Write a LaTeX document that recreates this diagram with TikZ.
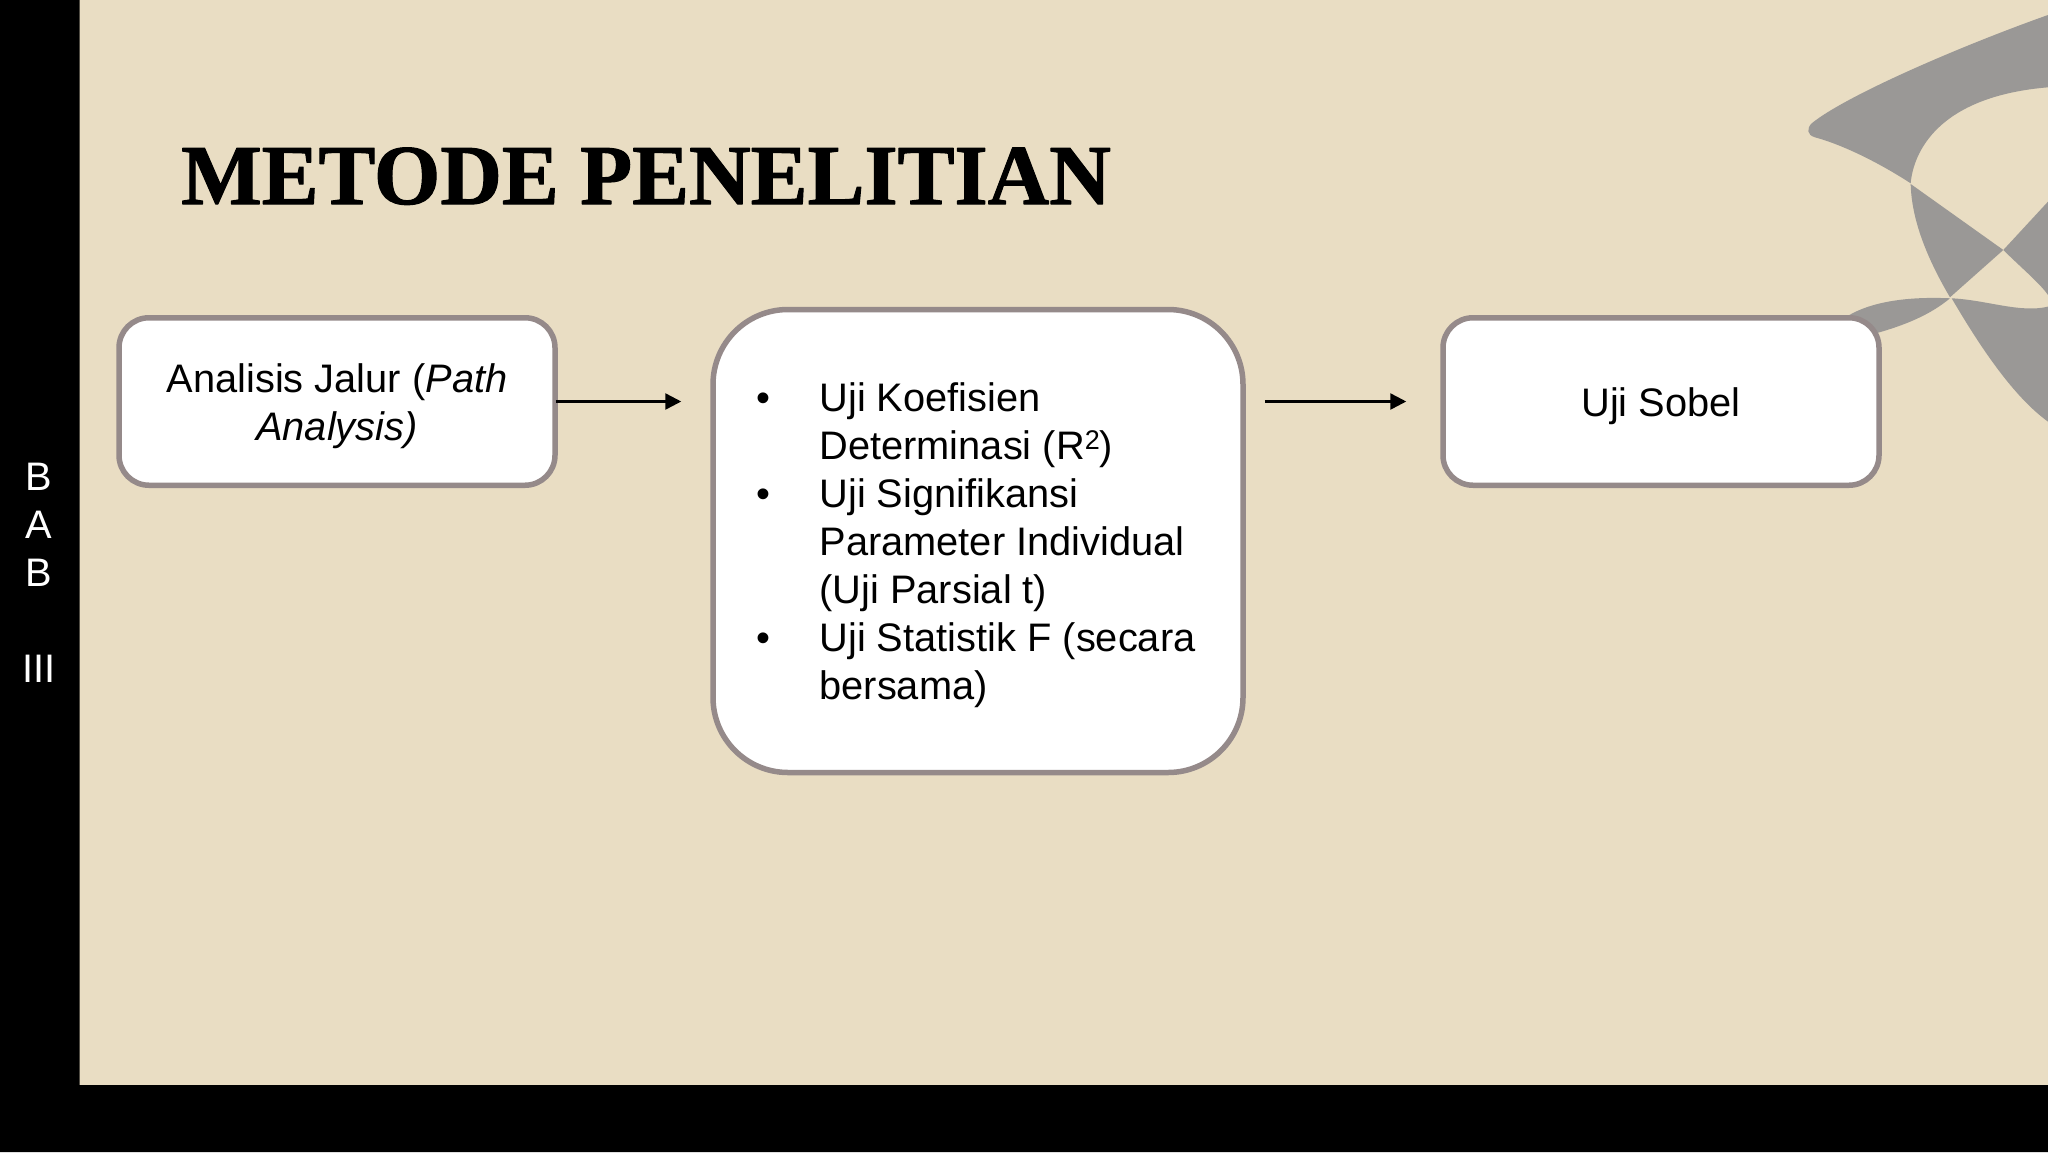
\documentclass[tikz,border=0pt]{standalone}
\usepackage{fontspec}
\setmainfont{Liberation Sans}
\newfontfamily\titlefont[BoldFeatures={FakeBold=1.2}]{Liberation Serif}
\usetikzlibrary{arrows.meta,positioning}
\definecolor{paper}{HTML}{E9DDC3}
\definecolor{edge}{HTML}{958A8A}
\definecolor{swirl}{HTML}{9A9896}
\tikzset{
    boxa/.style={draw=edge,fill=white,line width=5.5pt,rounded corners=30pt,inner sep=0pt,align=center},
    flow/.style={-{Stealth[length=16pt,width=16pt,inset=0pt]},line width=2.5pt,black},
    sidetext/.style={white,inner sep=0pt,anchor=base,font=\fontsize{39.8}{48}\selectfont}
}
\newcommand{\boxfont}{\fontsize{39.8}{48}\selectfont}
\begin{document}
\begin{tikzpicture}[x=1pt,y=-1pt,line join=round]
    \useasboundingbox (0,0) rectangle (2048,1152);
    \fill[paper] (0,0) rectangle (2048,1152);
    \fill[black] (0,0) rectangle (79.5,1152) (0,1085) rectangle (2048,1152);
    % swirl, traced at three times the size
    \begin{scope}[shift={(1780,0)},x=.3333pt,y=-.3333pt]
        \fill[swirl] (804,45) .. controls (550,135) and (200,285) .. (95,370)
            .. controls (80,385) and (80,405) .. (105,412)
            .. controls (190,435) and (300,490) .. (392,550)
            .. controls (400,460) and (470,290) .. (804,262) -- cycle;
        \fill[swirl] (392,552) -- (670,750) -- (510,892) .. controls (450,790) and (395,670) .. (392,552) -- cycle;
        \fill[swirl] (804,605) -- (670,750) .. controls (720,800) and (780,850) .. (804,885) -- cycle;
        \fill[swirl] (510,895) .. controls (400,890) and (280,900) .. (200,950) -- (250,1010)
            .. controls (370,980) and (450,945) .. (510,895) -- cycle;
        \fill[swirl] (515,895) .. controls (620,900) and (720,940) .. (804,920) -- (804,1265)
            .. controls (700,1190) and (600,1040) .. (515,895) -- cycle;
    \end{scope}
    \node[inner sep=0pt,anchor=base west,font=\titlefont\bfseries\fontsize{85.3}{90}\selectfont] (judul) at (181,204) {METODE PENELITIAN};
    \node[sidetext] (babb) at (39,490.5) {B};
    \node[sidetext] (baba) at (39,538.5) {A};
    \node[sidetext] (babc) at (39,586) {B};
    \node[sidetext] (babr) at (39,682) {III};
    \node[boxa,minimum width=436pt,minimum height=167.5pt,font=\boxfont] (jalur) at (337,401.5) {\rule{0pt}{38pt}Analisis Jalur (\textit{Path}\\\textit{Analysis)}};
    \node[boxa,rounded corners=75pt,minimum width=530pt,minimum height=463pt,font=\boxfont] (uji) at (978,541) {%
        \begin{tabular}{@{}p{63pt}@{}l@{\hspace{4pt}}}
            • & \rule{0pt}{44pt}Uji Koefisien\\
              & Determinasi (R\raisebox{10pt}{\fontsize{27}{27}\selectfont 2})\\
            • & Uji Signifikansi\\
              & Parameter Individual\\
              & (Uji Parsial t)\\
            • & Uji Statistik F (secara\\
              & bersama)
        \end{tabular}};
    \node[boxa,minimum width=436pt,minimum height=167.5pt,font=\boxfont] (sobel) at (1661,401.5) {\rule{0pt}{38.5pt}Uji Sobel};
    \draw[flow,shorten <=-2pt,shorten >=29pt] (jalur.east) -- (jalur.east -| uji.west);
    \draw[flow,shorten <=19pt,shorten >=34pt] (sobel.west -| uji.east) -- (sobel.west);
\end{tikzpicture}
\end{document}
